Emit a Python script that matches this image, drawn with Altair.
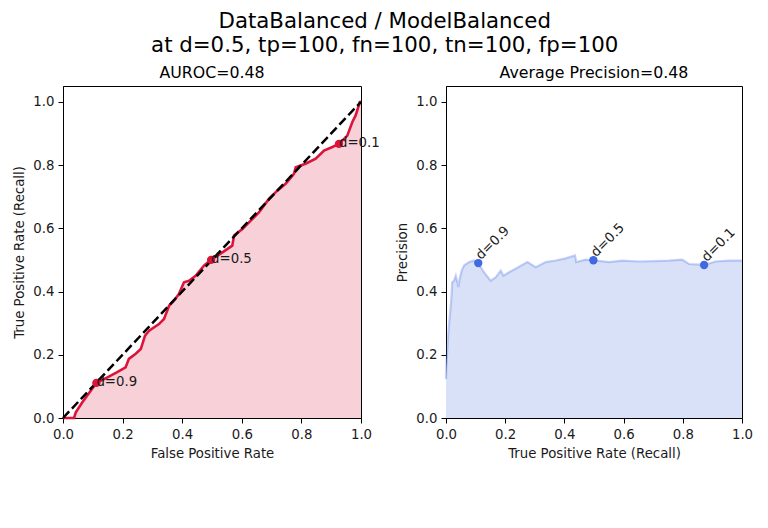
import altair as alt
import pandas as pd

# ROC curve (false positive rate, true positive rate)
ROC_FPR = [0.0, 0.037, 0.043, 0.065, 0.093, 0.112, 0.138, 0.182, 0.210, 0.221, 0.244,
           0.261, 0.275, 0.289, 0.322, 0.339, 0.356, 0.372, 0.389, 0.406, 0.423,
           0.445, 0.473, 0.497, 0.535, 0.568, 0.574, 0.602, 0.630, 0.658, 0.691,
           0.719, 0.747, 0.775, 0.781, 0.814, 0.848, 0.876, 0.904, 0.926, 0.954,
           0.971, 0.982, 0.996, 1.0]
ROC_TPR = [0.0, 0.0, 0.018, 0.050, 0.086, 0.111, 0.123, 0.145, 0.160, 0.187, 0.203,
           0.218, 0.260, 0.276, 0.297, 0.313, 0.355, 0.371, 0.392, 0.429, 0.434,
           0.450, 0.482, 0.500, 0.524, 0.545, 0.577, 0.598, 0.624, 0.651, 0.693,
           0.719, 0.741, 0.772, 0.793, 0.804, 0.820, 0.846, 0.857, 0.867, 0.893,
           0.936, 0.957, 0.999, 1.0]

# Precision-recall curve
PR_RECALL = [0.0, 0.001, 0.003, 0.008, 0.014, 0.018, 0.021, 0.027, 0.033, 0.042, 0.046,
             0.053, 0.061, 0.078, 0.095, 0.109, 0.128, 0.151, 0.168, 0.185, 0.194,
             0.213, 0.235, 0.275, 0.303, 0.337, 0.371, 0.404, 0.436, 0.440, 0.472,
             0.498, 0.551, 0.596, 0.652, 0.700, 0.753, 0.798, 0.821, 0.872, 0.911,
             0.956, 1.0]
PR_PRECISION = [0.123, 0.160, 0.197, 0.271, 0.334, 0.377, 0.429, 0.434, 0.450, 0.414, 0.440,
                0.466, 0.482, 0.493, 0.498, 0.490, 0.461, 0.434, 0.445, 0.466, 0.450,
                0.461, 0.472, 0.493, 0.477, 0.493, 0.498, 0.505, 0.514, 0.493, 0.501,
                0.499, 0.493, 0.498, 0.495, 0.496, 0.498, 0.501, 0.487, 0.484, 0.495,
                0.498, 0.498]

# thresholds marked on the curves
THRESH_LABELS = ["d=0.9", "d=0.5", "d=0.1"]
ROC_MARK_FPR = [0.112, 0.497, 0.926]
ROC_MARK_TPR = [0.111, 0.500, 0.867]
PR_MARK_RECALL = [0.109, 0.498, 0.872]
PR_MARK_PRECISION = [0.490, 0.499, 0.484]

TICKS = [0.0, 0.2, 0.4, 0.6, 0.8, 1.0]
CRIMSON = "#dc143c"
ROYAL = "#4169e1"
FONT = "DejaVu Sans"

roc_df = pd.DataFrame({"x": ROC_FPR, "y": ROC_TPR})
pr_df = pd.DataFrame({"x": PR_RECALL, "y": PR_PRECISION})
roc_pts = pd.DataFrame({"x": ROC_MARK_FPR, "y": ROC_MARK_TPR, "label": THRESH_LABELS})
pr_pts = pd.DataFrame({"x": PR_MARK_RECALL, "y": PR_MARK_PRECISION, "label": THRESH_LABELS})
diag = pd.DataFrame({"x": [0.0, 1.0], "y": [0.0, 1.0]})


def xy(xtitle, ytitle):
    x = alt.X("x:Q", title=xtitle,
              scale=alt.Scale(domain=[0, 1], nice=False),
              axis=alt.Axis(values=TICKS, format=".1f"))
    y = alt.Y("y:Q", title=ytitle,
              scale=alt.Scale(domain=[0, 1.05], nice=False),
              axis=alt.Axis(values=TICKS, format=".1f"))
    return x, y


rx, ry = xy("False Positive Rate", "True Positive Rate (Recall)")
roc_area = alt.Chart(roc_df).mark_area(color="#f8d0d8", opacity=1).encode(x=rx, y=ry)
roc_line = alt.Chart(roc_df).mark_line(color=CRIMSON, strokeWidth=2.6).encode(x=rx, y=ry)
roc_diag = alt.Chart(diag).mark_line(color="black", strokeWidth=2.5, strokeDash=[9, 4]).encode(
    x=rx, y=ry)
roc_dots = alt.Chart(roc_pts).mark_circle(color=CRIMSON, size=70, opacity=1).encode(x=rx, y=ry)
roc_text = alt.Chart(roc_pts).mark_text(
    align="left", baseline="alphabetic", dy=3, font=FONT, fontSize=13.3, color="#1a1a1a"
).encode(x=rx, y=ry, text="label:N")

left = alt.layer(roc_area, roc_line, roc_diag, roc_dots, roc_text).properties(
    width=298, height=332,
    title=alt.TitleParams("AUROC=0.48", fontSize=15.8, font=FONT, fontWeight="normal", offset=4),
)

px, py = xy("True Positive Rate (Recall)", "Precision")
pr_area = alt.Chart(pr_df).mark_area(color="#d9e1f9", opacity=1).encode(x=px, y=py)
pr_line = alt.Chart(pr_df).mark_line(color=ROYAL, strokeWidth=2.2, opacity=0.3).encode(x=px, y=py)
pr_dots = alt.Chart(pr_pts).mark_circle(color=ROYAL, size=70, opacity=1).encode(x=px, y=py)
pr_text = alt.Chart(pr_pts).mark_text(
    align="left", baseline="alphabetic", angle=315, dx=4, font=FONT, fontSize=13.3,
    color="#1a1a1a"
).encode(x=px, y=py, text="label:N")

right = alt.layer(pr_area, pr_line, pr_dots, pr_text).properties(
    width=296, height=332,
    title=alt.TitleParams("Average Precision=0.48", fontSize=15.8, font=FONT,
                          fontWeight="normal", offset=4),
)

chart = (
    alt.hconcat(left, right, spacing=85, bounds="flush")
    .properties(
        title=alt.TitleParams(
            ["DataBalanced / ModelBalanced", "at d=0.5, tp=100, fn=100, tn=100, fp=100"],
            fontSize=21.3, font=FONT, fontWeight="normal", anchor="middle",
            lineHeight=24, dx=2, offset=8, color="black",
        ),
        padding={"left": 4, "top": 3, "right": 5, "bottom": 5},
    )
    .configure_view(stroke="black", strokeWidth=1)
    .configure_axis(
        grid=False, labelFont=FONT, labelFontSize=13.3, labelColor="#1a1a1a",
        labelFlush=False, titleFont=FONT, titleFontSize=13.3, titleFontWeight="normal",
        titleColor="#1a1a1a", domainColor="black", tickColor="black", tickSize=5,
        labelPadding=4, titlePadding=6,
    )
)

chart.save("out.html", embed_options={"renderer": "svg", "actions": False})
